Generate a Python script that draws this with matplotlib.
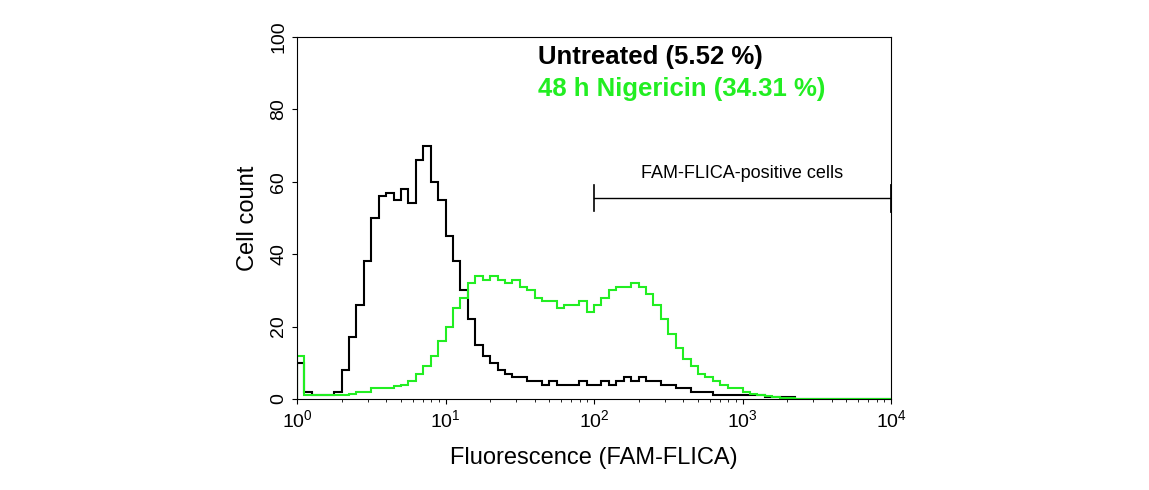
import numpy as np
import matplotlib.pyplot as plt

plt.rcParams['font.family'] = ['Liberation Sans', 'DejaVu Sans']

# histogram bins on log10 scale (bin starts)
log_bins = [0.0, 0.05, 0.1, 0.15, 0.2, 0.25, 0.3, 0.35, 0.4, 0.45, 0.5, 0.55, 0.6, 0.65, 0.7, 0.75,
            0.8, 0.85, 0.9, 0.95, 1.0, 1.05, 1.1, 1.15, 1.2, 1.25, 1.3, 1.35, 1.4, 1.45, 1.5, 1.55,
            1.6, 1.65, 1.7, 1.75, 1.8, 1.85, 1.9, 1.95, 2.0, 2.05, 2.1, 2.15, 2.2, 2.25, 2.3, 2.35,
            2.4, 2.45, 2.5, 2.55, 2.6, 2.65, 2.7, 2.75, 2.8, 2.85, 2.9, 2.95, 3.0, 3.05, 3.1, 3.15,
            3.2, 3.25, 3.3, 3.35, 3.4, 3.5, 4.0]
untreated = [10, 2, 1, 1, 1, 2, 8, 17, 26, 38, 50, 56, 57, 55, 58, 54,
             66, 70, 60, 55, 45, 38, 30, 22, 15, 12, 10, 8, 7, 6, 6, 5,
             5, 4, 5, 4, 4, 4, 5, 4, 4, 5, 4, 5, 6, 5, 6, 5,
             5, 4, 4, 3, 3, 2, 2, 2, 1, 1, 1, 1, 1, 1, 1, 0.5,
             0.5, 0.5, 0.5, 0, 0, 0]
nigericin = [12, 1, 1, 1, 1, 1, 1, 1.5, 2, 2, 3, 3, 3, 3.5, 4, 5,
             7, 9, 12, 16, 20, 25, 28, 32, 34, 33, 34, 33, 32, 33, 31, 30,
             28, 27, 27, 25, 26, 26, 27, 24, 26, 28, 30, 31, 31, 32, 31, 29,
             26, 22, 18, 14, 11, 9, 7, 6, 5, 4, 3, 3, 2, 1.5, 1, 0.8,
             0.5, 0.3, 0.2, 0.1, 0, 0]

fig = plt.figure(figsize=(11.49, 4.9), dpi=100)
ax = fig.add_axes([0.2585, 0.1857, 0.517, 0.739])
edges = 10 ** np.array(log_bins)
ax.stairs(untreated, edges, color='black', lw=1.5)
ax.stairs(nigericin, edges, color='#22ee22', lw=1.5)

ax.set_xscale('log')
ax.set_xlim(1, 1e4)
ax.set_ylim(0, 100)
ax.set_yticks([0, 20, 40, 60, 80, 100])
ax.tick_params(axis='y', labelrotation=90, labelsize=14)
ax.tick_params(axis='x', labelsize=14)
for lab in ax.get_yticklabels():
    lab.set_va('center')
ax.set_xlabel('Fluorescence (FAM-FLICA)', fontsize=17, labelpad=12)
ax.set_ylabel('Cell count', fontsize=17, labelpad=8)

# gate marker
ax.plot([100, 1e4], [55.5, 55.5], color='black', lw=1)
ax.plot([100, 100], [52, 59], color='black', lw=1.2)
ax.plot([1e4, 1e4], [52, 59], color='black', lw=2)
ax.text(1000, 60, 'FAM-FLICA-positive cells', ha='center', va='bottom', fontsize=13)

ax.text(42, 94.5, 'Untreated (5.52 %)', fontsize=18.5, fontweight='bold', va='center')
ax.text(42, 85.5, '48 h Nigericin (34.31 %)', fontsize=18.5, fontweight='bold', va='center', color='#22ee22')

fig.savefig('out.png')
